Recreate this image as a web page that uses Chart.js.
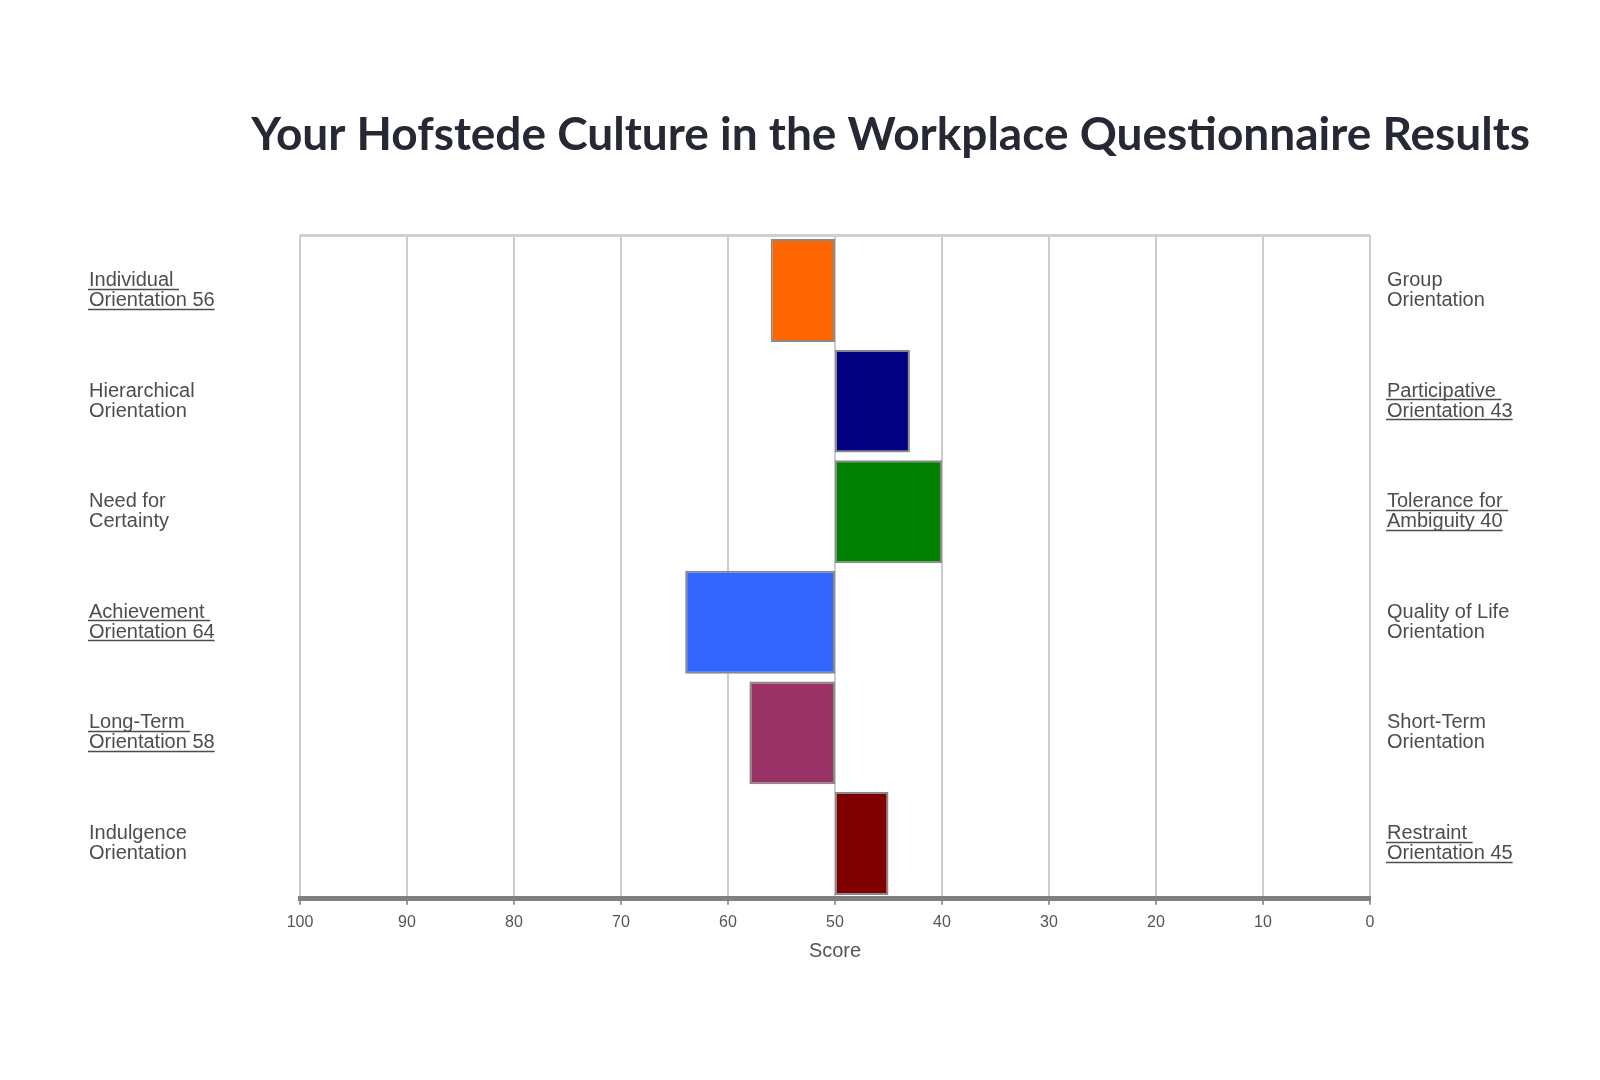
<!DOCTYPE html>
<html>
<head>
<meta charset="utf-8">
<title>Hofstede Culture Results</title>
<script src="https://cdn.jsdelivr.net/npm/chart.js@4.4.1/dist/chart.umd.min.js"></script>
<style>
  html, body { margin: 0; padding: 0; background: #fff; }
  #wrap { width: 1600px; height: 1080px; }
</style>
</head>
<body>
<div id="wrap"><canvas id="hofstedeChart" width="1600" height="1080"></canvas></div>
<script>
// data
const leftLabels = [
    ['Individual', 'Orientation 56'],
    ['Hierarchical', 'Orientation'],
    ['Need for', 'Certainty'],
    ['Achievement', 'Orientation 64'],
    ['Long-Term', 'Orientation 58'],
    ['Indulgence', 'Orientation']
];
const rightLabels = [
    ['Group', 'Orientation'],
    ['Participative', 'Orientation 43'],
    ['Tolerance for', 'Ambiguity 40'],
    ['Quality of Life', 'Orientation'],
    ['Short-Term', 'Orientation'],
    ['Restraint', 'Orientation 45']
];
// which side got the score (underlined label)
const leftUnderlined = [true, false, false, true, true, false];
const rightUnderlined = [false, true, true, false, false, true];
const scores = [56, 43, 40, 64, 58, 45];
const midpoint = 50;
const barColors = ['#ff6600', '#000080', '#008000', '#3366ff', '#993366', '#800000'];
const scoreTicks = [100, 90, 80, 70, 60, 50, 40, 30, 20, 10, 0];

const labelColor = '#4d4d4d';
const labelFamily = '"Liberation Sans", Arial, sans-serif';
const labelSize = 20;

// underline the label that carries the score
const underlinePlugin = {
    id: 'underline',
    afterDraw(chart) {
        const ctx = chart.ctx;
        [['y', leftLabels, leftUnderlined], ['y2', rightLabels, rightUnderlined]].forEach(function (side) {
            const scale = chart.scales[side[0]];
            const labels = side[1];
            const flags = side[2];
            const lineH = labelSize * scale.options.ticks.font.lineHeight;
            ctx.save();
            ctx.font = labelSize + 'px ' + labelFamily;
            ctx.textBaseline = 'middle';
            ctx.strokeStyle = labelColor;
            ctx.lineWidth = 1.5;
            const drop = ctx.measureText('H').actualBoundingBoxDescent + 2.5;
            const x0 = side[0] === 'y' ? scale.left : scale.left + scale.options.ticks.padding;
            labels.forEach(function (lines, i) {
                if (!flags[i]) return;
                const yc = scale.getPixelForTick(i);
                lines.forEach(function (line, j) {
                    const y = Math.round(yc + (j - (lines.length - 1) / 2) * lineH + drop) + 0.5;
                    const w = ctx.measureText(j < lines.length - 1 ? line + ' ' : line).width;
                    ctx.beginPath();
                    ctx.moveTo(x0 - 1, y);
                    ctx.lineTo(x0 + w, y);
                    ctx.stroke();
                });
            });
            ctx.restore();
        });
    }
};

const ctx = document.getElementById('hofstedeChart');
const hChart = new Chart(ctx, {
    type: 'bar',
    data: {
        labels: leftLabels,
        datasets: [
            {
                data: scores.map(v => [midpoint, v]),
                backgroundColor: barColors,
                borderColor: '#8a8a8a',
                borderWidth: 2,
                borderSkipped: false,
                categoryPercentage: 1,
                barPercentage: 0.93,
                xAxisID: 'x',
                yAxisID: 'y'
            }
        ]
    },
    options: {
        responsive: false,
        animation: false,
        indexAxis: 'y',
        layout: {
            padding: { left: 89, right: 70, top: 0, bottom: 118 }
        },
        plugins: {
            legend: { display: false },
            tooltip: { enabled: false },
            title: {
                display: true,
                text: 'Your Hofstede Culture in the Workplace Questionnaire Results',
                align: 'end',
                color: '#262833',
                font: { family: 'Lato, "Open Sans", sans-serif', size: 46, weight: 'bold', lineHeight: 1.2 },
                padding: { top: 108, bottom: 72 }
            }
        },
        scales: {
            x: {
                type: 'linear',
                position: 'bottom',
                min: 0,
                max: 100,
                reverse: true,
                afterBuildTicks: function (scale) {
                    scale.ticks = scoreTicks.map(v => ({ value: v }));
                },
                grid: {
                    color: '#cccccc',
                    lineWidth: 2,
                    tickLength: 6,
                    tickColor: '#9a9a9a',
                    tickWidth: 2
                },
                border: { color: '#808080', width: 5 },
                ticks: {
                    color: '#555555',
                    padding: 8,
                    font: { family: labelFamily, size: 16 }
                },
                title: {
                    display: true,
                    text: 'Score',
                    color: '#555555',
                    font: { family: labelFamily, size: 20, lineHeight: 1.1 },
                    padding: { top: 0, bottom: 0 }
                }
            },
            y: {
                type: 'category',
                position: 'left',
                afterFit: function (scale) { scale.width = 211; },
                grid: {
                    drawTicks: false,
                    // only the top edge of the plot frame
                    color: c => c.index === 0 ? '#d0d0d0' : 'rgba(0,0,0,0)',
                    lineWidth: 3
                },
                border: { display: false },
                ticks: {
                    crossAlign: 'far',
                    color: labelColor,
                    font: { family: labelFamily, size: labelSize, lineHeight: 1.0 }
                }
            },
            y2: {
                type: 'category',
                position: 'right',
                labels: rightLabels,
                offset: true,
                afterFit: function (scale) { scale.width = 160; },
                grid: { display: false, drawTicks: false },
                border: { display: false },
                ticks: {
                    padding: 17,
                    color: labelColor,
                    font: { family: labelFamily, size: labelSize, lineHeight: 1.0 }
                }
            }
        }
    },
    plugins: [underlinePlugin]
});
</script>
</body>
</html>
